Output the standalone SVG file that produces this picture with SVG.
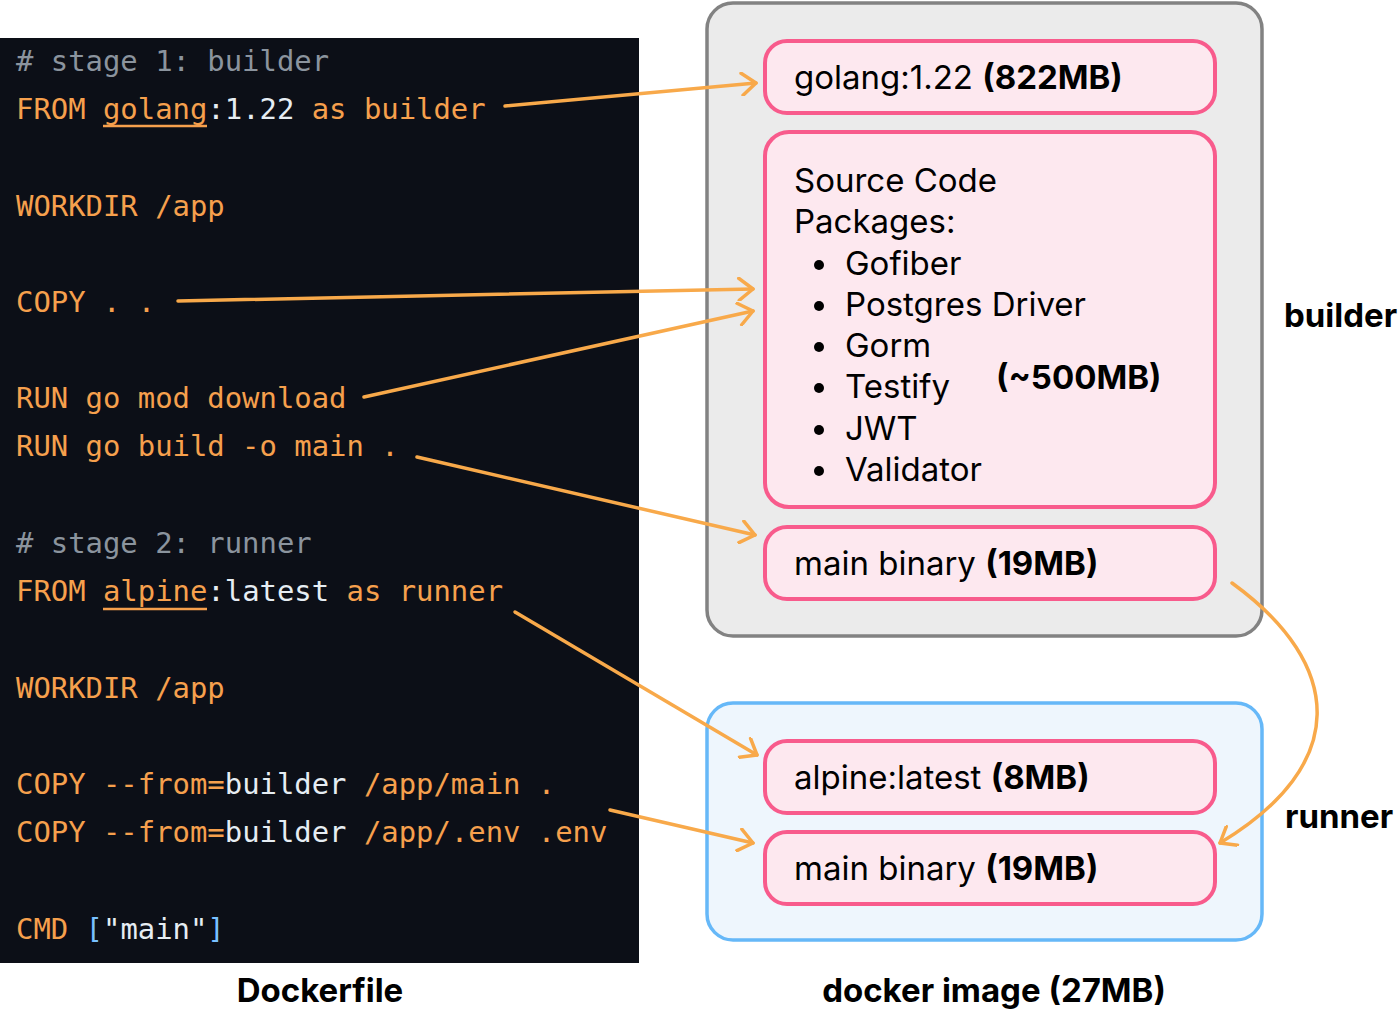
<svg xmlns="http://www.w3.org/2000/svg" width="1400" height="1010" viewBox="0 0 1400 1010">
<style>
.code{font-family:"DejaVu Sans Mono","Liberation Mono",monospace;font-size:28.9px;fill:#f6a04d}
.w{fill:#e6edf3}
.c{fill:#8b949e}
.b{fill:#79c0ff}
.t{font-family:Inter,"Noto Sans","Liberation Sans",sans-serif;font-size:33px;fill:#000}
.bold{font-weight:700}
.item{fill:#fde8ef;stroke:#f85b8c;stroke-width:4}
.conn{fill:none;stroke:#f8a94a;stroke-width:3.5;stroke-linecap:round}
</style>
<defs>
<marker id="ah" viewBox="0 0 24 24" refX="20" refY="12" markerWidth="24" markerHeight="24" markerUnits="userSpaceOnUse" orient="auto">
<path d="M6,1 L20,12 L6,23" fill="none" stroke="#f8a94a" stroke-width="3.5" stroke-linecap="round" stroke-linejoin="round"/>
</marker>
</defs>
<rect width="1400" height="1010" fill="#fff"/>
<g id="dockerfile">
<rect x="0" y="38" width="639" height="925" fill="#0c0f17"/>
<text class="code" x="16" y="71"><tspan class="c"># stage 1: builder</tspan></text>
<text class="code" x="16" y="119">FROM golang<tspan class="w">:1.22</tspan> as builder</text>
<line x1="103" y1="126" x2="207" y2="126" stroke="#f6a04d" stroke-width="2.5"/>
<text class="code" x="16" y="216">WORKDIR /app</text>
<text class="code" x="16" y="312">COPY . .</text>
<text class="code" x="16" y="408">RUN go mod download</text>
<text class="code" x="16" y="456">RUN go build -o main .</text>
<text class="code" x="16" y="553"><tspan class="c"># stage 2: runner</tspan></text>
<text class="code" x="16" y="601">FROM alpine<tspan class="w">:latest</tspan> as runner</text>
<line x1="103" y1="609" x2="207" y2="609" stroke="#f6a04d" stroke-width="2.5"/>
<text class="code" x="16" y="698">WORKDIR /app</text>
<text class="code" x="16" y="794">COPY --from=<tspan class="w">builder</tspan> /app/main .</text>
<text class="code" x="16" y="842">COPY --from=<tspan class="w">builder</tspan> /app/.env .env</text>
<text class="code" x="16" y="939">CMD <tspan class="b">[</tspan><tspan class="w">"main"</tspan><tspan class="b">]</tspan></text>
</g>
<g id="builder-stage">
<rect x="707" y="3" width="555" height="633" rx="26" fill="#ebebeb" stroke="#828282" stroke-width="3.5"/>
<text class="t bold" x="1284" y="327">builder</text>
</g>
<g id="golang">
<rect class="item" x="765" y="41" width="450" height="72" rx="22"/>
<text class="t" x="794" y="89">golang:1.22 <tspan class="bold">(822MB)</tspan></text>
</g>
<g id="source">
<rect class="item" x="765" y="132" width="450" height="375" rx="24"/>
<text class="t" x="794" y="192">Source Code</text>
<text class="t" x="794" y="233">Packages:</text>
<g class="t">
<circle cx="819" cy="265" r="5"/><text class="t" x="845" y="275">Gofiber</text>
<circle cx="819" cy="306" r="5"/><text class="t" x="845" y="316">Postgres Driver</text>
<circle cx="819" cy="347" r="5"/><text class="t" x="845" y="357">Gorm</text>
<circle cx="819" cy="388" r="5"/><text class="t" x="845" y="398">Testify</text>
<circle cx="819" cy="430" r="5"/><text class="t" x="845" y="440">JWT</text>
<circle cx="819" cy="471" r="5"/><text class="t" x="845" y="481">Validator</text>
</g>
<text class="t bold" x="996" y="389">(~500MB)</text>
</g>
<g id="builder-binary">
<rect class="item" x="765" y="527" width="450" height="72" rx="22"/>
<text class="t" x="794" y="575">main binary <tspan class="bold">(19MB)</tspan></text>
</g>
<g id="runner-stage">
<rect x="707" y="703" width="555" height="237" rx="26" fill="#eef6fd" stroke="#66b8f8" stroke-width="3.5"/>
<text class="t bold" x="1285" y="828">runner</text>
</g>
<g id="alpine">
<rect class="item" x="765" y="741" width="450" height="72" rx="22"/>
<text class="t" x="794" y="789">alpine:latest <tspan class="bold">(8MB)</tspan></text>
</g>
<g id="runner-binary">
<rect class="item" x="765" y="832" width="450" height="72" rx="22"/>
<text class="t" x="794" y="880">main binary <tspan class="bold">(19MB)</tspan></text>
</g>
<g id="labels">
<text class="t bold" x="320" y="1002" text-anchor="middle">Dockerfile</text>
<text class="t bold" x="994" y="1002" text-anchor="middle">docker image (27MB)</text>
</g>
<g id="connectors">
<path class="conn" d="M505,106 L756,83" marker-end="url(#ah)"/>
<path class="conn" d="M178,301 L753,289" marker-end="url(#ah)"/>
<path class="conn" d="M364,397 L753,311" marker-end="url(#ah)"/>
<path class="conn" d="M417,457 L755,535" marker-end="url(#ah)"/>
<path class="conn" d="M515,612 L757,755" marker-end="url(#ah)"/>
<path class="conn" d="M610,810 L753,843" marker-end="url(#ah)"/>
<path class="conn" d="M1232,583 C1345,665 1350,765 1220,843" marker-end="url(#ah)"/>
</g>
</svg>
